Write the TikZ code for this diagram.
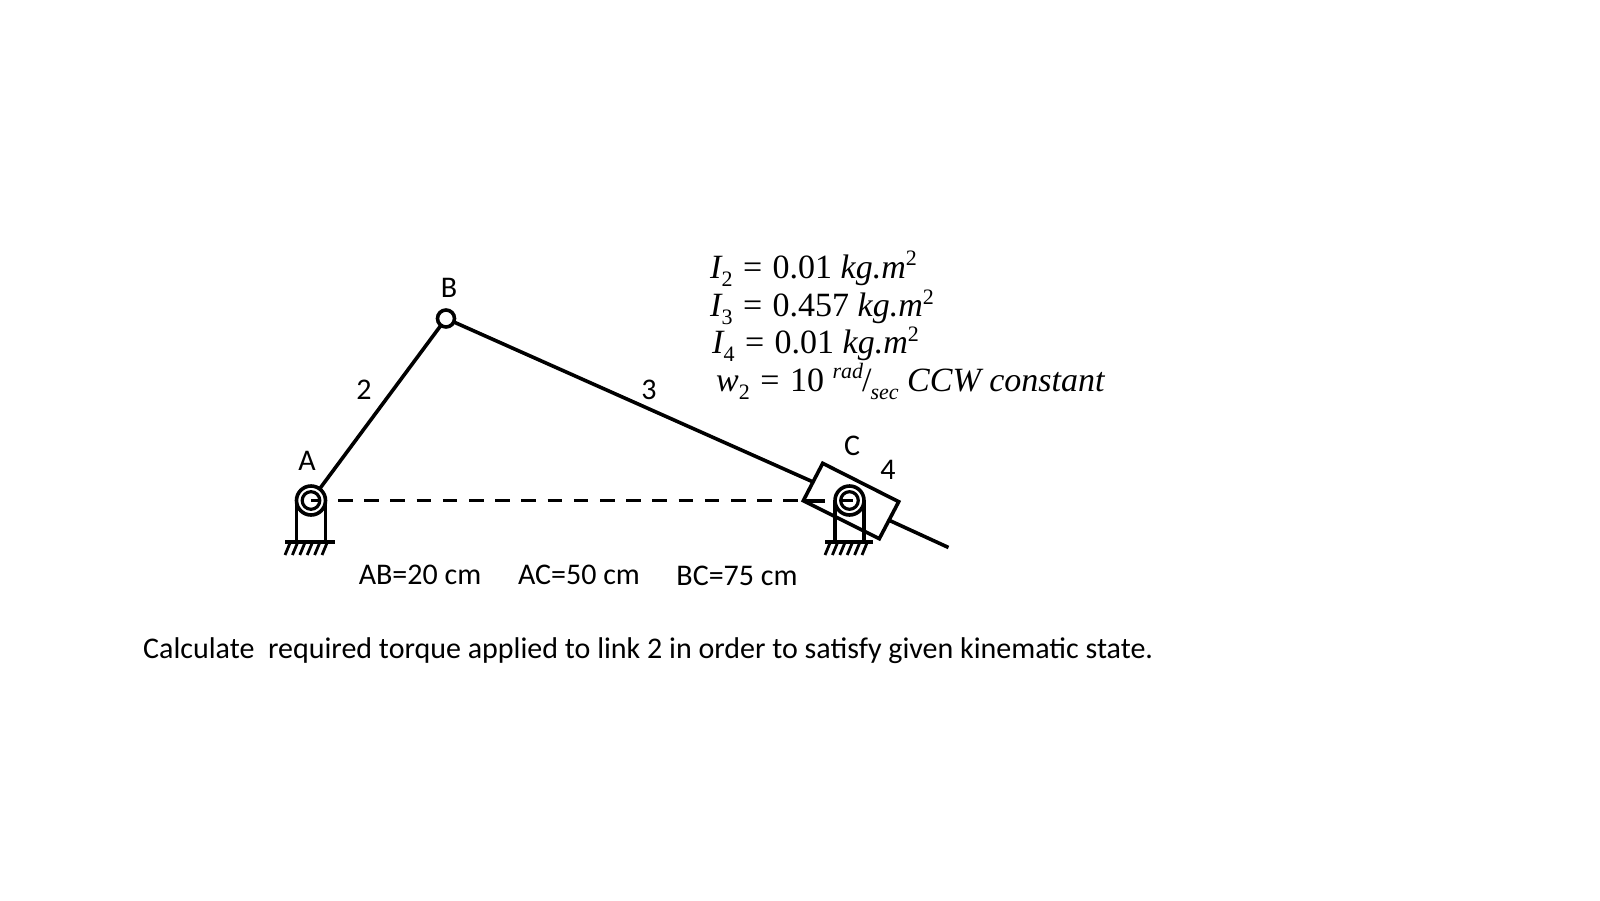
\RequirePackage{fix-cm}
\documentclass[tikz,border=0pt]{standalone}
\usepackage{fontspec}
\usetikzlibrary{calc}
\setmainfont{Carlito}
\newfontfamily\eqfont{Liberation Serif}
\newcommand{\sbs}[1]{\raisebox{-.24em}{\fontsize{22}{22}\selectfont\upshape #1}}
\newcommand{\sps}[1]{\raisebox{.36em}{\fontsize{22}{22}\selectfont\upshape #1}}
\newcommand{\eqs}{{\upshape\kern2pt=\kern2pt}}
\begin{document}
\begin{tikzpicture}[x=1pt,y=-1pt,
  lbl/.style={inner sep=0pt,font=\fontsize{30}{36}\selectfont},
  eq/.style={inner sep=0pt,anchor=base west,font=\fontsize{34}{38}\selectfont\eqfont\itshape},
  thick line/.style={line width=3.6pt},
  hinge/.style={circle,draw,line width=3.6pt,fill=white,inner sep=0pt,minimum size=17pt}]
\useasboundingbox (0,0) rectangle (1600,900);
\fill[white] (0,0) rectangle (1600,900);
% joints as coordinates
\coordinate (A) at (311,500.5);
\coordinate (C) at (849.5,500.5);
\coordinate (Bc) at (446,318.5);
\coordinate (dstart) at (338,500.5);
\coordinate (dend) at (798,500.5);
\coordinate (rodend) at (948.5,547.5);
% slider
\coordinate (s1) at (822.7,463.3);
\coordinate (s2) at (898.7,501.7);
\coordinate (s3) at (879.3,538.7);
\coordinate (s4) at (803.3,500.7);
\coordinate (rodin) at (813.2,482);
\coordinate (rodout) at (889,520.2);
% links
\draw[thick line] ($(A)!14pt!(Bc)$) -- (Bc);
\draw[thick line] (Bc) -- (rodin);
\draw[thick line] (rodout) -- (rodend);
\node[hinge] (B) at (Bc) {};
% dashed centre line
\draw[line width=3.6pt,dash pattern=on 14.5pt off 11.7pt] (dstart) -- (dend);
\draw[line width=3.6pt] (s4) ++(2,0) -- ++(20,0);
% supports
\foreach \p/\l/\r/\h in {A/-26/23.5/-21,C/-24.5/23.5/-19.5}{
  \draw[line width=3.6pt] ($(\p)+(-14.5,0)$) -- ($(\p)+(-14.5,41.5)$);
  \draw[line width=3.6pt] ($(\p)+(14.5,0)$) -- ($(\p)+(14.5,41.5)$);
  \draw[line width=3.6pt] ($(\p)+(\l,41.5)$) -- ($(\p)+(\r,41.5)$);
  \foreach \k in {0,1,2,3,4,5}{
    \draw[line width=2.8pt] ($(\p)+(\h+7.4*\k,42.5)$) -- ($(\p)+(\h+7.4*\k-5,54.5)$);
  }
  \draw[line width=3.6pt] (\p) circle[radius=14.5];
  \draw[line width=3.2pt] (\p) circle[radius=8.8];
}
\draw[line width=2.8pt] (A) -- ++(10,0);
\draw[line width=2.8pt] (C) -- ++(-10,0) (C) -- ++(3,0);
% slider outline
\draw[line width=3.6pt] (s1) -- (s2) -- (s3) -- (s4) -- cycle;
% labels
\node[lbl] (la) at (307,461) {A};
\node[lbl] (lb) at (449,288) {B};
\node[lbl] (l2) at (364,390) {2};
\node[lbl] (l3) at (649,390) {3};
\node[lbl] (lc) at (852,446) {C};
\node[lbl] (l4) at (888,470) {4};
\node[lbl] (ab) at (420,575) {AB=20 cm};
\node[lbl] (ac) at (579,575) {AC=50 cm};
\node[lbl] (bc) at (737,576) {BC=75 cm};
\node[lbl,anchor=base west] (calc) at (143,658) {Calculate\ \ required torque applied to link 2 in order to satisfy given kinematic state.};
% equations
\node[eq] (e1) at (710,278) {I\sbs{2} \eqs{} {\upshape 0.01} kg.m\sps{2}};
\node[eq] (e2) at (710,316.5) {I\sbs{3} \eqs{} {\upshape 0.457} kg.m\sps{2}};
\node[eq] (e3) at (712,353.5) {I\sbs{4} \eqs{} {\upshape 0.01} kg.m\sps{2}};
\node[eq] (e4) at (716,391) {w\sbs{2} \eqs{} {\upshape 10} \sps{\itshape rad}\kern-1pt{\upshape /}\kern-1pt\sbs{\itshape sec} CCW constant};
\end{tikzpicture}
\end{document}
